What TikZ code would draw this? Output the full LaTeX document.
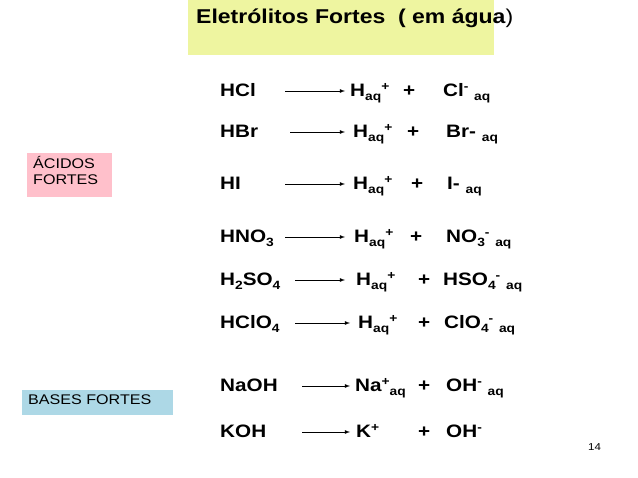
\documentclass[tikz,border=0pt]{standalone}
\usepackage{fontspec}
\setmainfont{Liberation Sans}[FakeStretch=1.15]
\newcommand\sbx[1]{\raisebox{-4pt}{\fontsize{12}{12}\selectfont #1}}
\newcommand\spx[1]{\raisebox{6pt}{\fontsize{12}{12}\selectfont #1}}
\begin{document}
\begin{tikzpicture}[x=1pt,y=-1pt,
  t/.style={anchor=base west,inner sep=0,font=\bfseries\fontsize{18}{20}\selectfont},
  lab/.style={anchor=north west,inner sep=0,font=\fontsize{14}{16}\selectfont},
  arr/.style={-latex,line width=0.8pt}]
\useasboundingbox (0,0) rectangle (638,478);
\fill[fill={rgb,255:red,238;green,245;blue,160}] (188,0) rectangle (494,55);
\node[t,font=\bfseries\fontsize{20}{22}\selectfont] (title) at (196,24) {Eletrólitos Fortes\ \ ( em água\textmd{)}};
\fill[fill={rgb,255:red,255;green,192;blue,203}] (27,153) rectangle (112,197);
\node[lab,align=left] (ac) at (33,156) {ÁCIDOS\\FORTES};
\fill[fill={rgb,255:red,173;green,216;blue,230}] (22,390) rectangle (173,415);
\node[lab] (bs) at (28,395) {BASES FORTES};
\node[anchor=base west,inner sep=0,font=\fontsize{10}{12}\selectfont] (pg) at (588,451) {14};
\def\row#1#2#3#4#5#6#7#8#9{%
  \node[t] (l#1) at (220,#2) {#3};
  \coordinate (a#1) at (#4,#2-6); \coordinate (b#1) at (#5,#2-6);
  \draw[arr] (a#1) -- (b#1);
  \node[t] (h#1) at (#6,#2) {#7};
  \node[t] (p#1) at (#8,#2) {+};
  \node[t] (r#1) at (#9,#2) {\rowlast};}
\def\Haq{H\sbx{aq}\spx{+}}
\def\rowlast{Cl\spx{-}\ \sbx{aq}}
\row{1}{97}{HCl}{285}{345}{350}{\Haq}{403}{443}
\def\rowlast{Br- \sbx{aq}}
\row{2}{138}{HBr}{290}{345}{353}{\Haq}{407}{446}
\def\rowlast{I- \sbx{aq}}
\row{3}{190}{HI}{285}{345}{353}{\Haq}{411}{447}
\def\rowlast{NO\sbx{3}\spx{-}\ \sbx{aq}}
\row{4}{243}{HNO\sbx{3}}{285}{345}{354}{\Haq}{410}{446}
\def\rowlast{HSO\sbx{4}\spx{-}\ \sbx{aq}}
\row{5}{286}{H\sbx{2}SO\sbx{4}}{295}{345}{356}{\Haq}{418}{443}
\def\rowlast{ClO\sbx{4}\spx{-}\ \sbx{aq}}
\row{6}{329}{HClO\sbx{4}}{295}{350}{358}{\Haq}{418}{444}
\def\rowlast{OH\spx{-}\ \sbx{aq}}
\row{7}{392}{NaOH}{302}{350}{355}{Na\spx{+}\sbx{aq}}{418}{446}
\def\rowlast{OH\spx{-}}
\row{8}{438}{KOH}{302}{350}{356}{K\spx{+}}{418}{446}
\end{tikzpicture}
\end{document}
